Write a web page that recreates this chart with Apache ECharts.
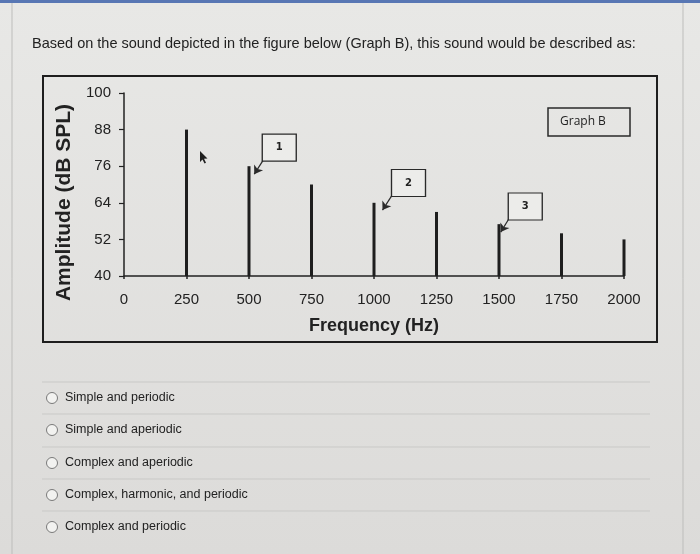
<!DOCTYPE html>
<html>
<head>
<meta charset="utf-8">
<script src="https://cdn.jsdelivr.net/npm/echarts@6/dist/echarts.min.js"></script>
<style>
html,body{margin:0;padding:0;background:#e4e4e2;}
#graphB{width:700px;height:554px;}
</style>
</head>
<body>
<div id="graphB"></div>
<script>
// data
var freqs = [250, 500, 750, 1000, 1250, 1500, 1750, 2000];
var amps = [88, 76, 70, 64, 61, 57, 54, 52];
var yTicks = [40, 52, 64, 76, 88, 100];
var xTicks = [0, 250, 500, 750, 1000, 1250, 1500, 1750, 2000];
var boxLabels = ['1', '2', '3'];
var boxPos = [[621, 82.1], [1138, 70.5], [1605, 62.8]];
var arrowFrom = [[557, 78], [1070, 66.2], [1539, 58.7]];
var arrowTo = [[521, 73.4], [1034, 61.6], [1507, 54.4]];
var choices = ['Simple and periodic', 'Simple and aperiodic', 'Complex and aperiodic',
  'Complex, harmonic, and periodic', 'Complex and periodic'];

var chart = echarts.init(document.getElementById('graphB'));

var points = [];
for (var i = 0; i < freqs.length; i++) {
  points.push([freqs[i], amps[i]]);
}

var marks = [];
var arrows = [];
for (var k = 0; k < boxLabels.length; k++) {
  marks.push({ coord: boxPos[k], value: boxLabels[k] });
  arrows.push([{ coord: arrowFrom[k] }, { coord: arrowTo[k] }]);
}

// page bits round the chart: rules, radio buttons, answer texts
var extras = [
  { type: 'rect', shape: { x: 0, y: 0, width: 700, height: 3 }, style: { fill: '#5877b4' }, silent: true },
  { type: 'line', shape: { x1: 12, y1: 3, x2: 12, y2: 554 }, style: { stroke: '#bdbdbb', lineWidth: 1 }, silent: true },
  { type: 'line', shape: { x1: 683, y1: 3, x2: 683, y2: 554 }, style: { stroke: '#bdbdbb', lineWidth: 1 }, silent: true },
  { type: 'rect', z: -1, shape: { x: 43, y: 76, width: 614, height: 266 }, style: { fill: 'none', stroke: '#1e1e1e', lineWidth: 2 }, silent: true },
  { type: 'polygon', shape: { points: [[200, 151], [200, 162], [202.5, 159.5], [204.5, 163.5], [206, 162.8], [204, 158.8], [207.5, 158.5]] }, style: { fill: '#1e1e1e' }, silent: true }
];
var rulesY = [382, 414, 447, 479, 511];
for (var j = 0; j < choices.length; j++) {
  var cy = rulesY[j] + 16;
  extras.push({ type: 'line', shape: { x1: 42, y1: rulesY[j], x2: 650, y2: rulesY[j] }, style: { stroke: '#c9c9c7', lineWidth: 1 }, silent: true });
  extras.push({ type: 'circle', shape: { cx: 52, cy: cy, r: 5.5 }, style: { fill: '#f2f2f0', stroke: '#7a7a7a', lineWidth: 1 }, silent: true });
  extras.push({ type: 'text', x: 65, y: cy, style: { text: choices[j], fontSize: 12.5, fontFamily: 'Liberation Sans', fill: '#222', verticalAlign: 'middle' }, silent: true });
}

var option = {
  backgroundColor: new echarts.graphic.LinearGradient(0, 0, 0, 1, [
    { offset: 0, color: '#e8e8e6' },
    { offset: 1, color: '#dcdbd9' }
  ]),
  animation: false,
  textStyle: { fontFamily: 'Liberation Sans' },
  title: [
    {
      text: 'Based on the sound depicted in the figure below (Graph B), this sound would be described as:',
      left: 32, top: 36, padding: 0,
      textStyle: { fontSize: 14.5, fontWeight: 'normal', color: '#222', fontFamily: 'Liberation Sans' }
    },
    {
      text: 'Graph B',
      left: 548, top: 108,
      padding: [8, 24, 8, 12],
      borderColor: '#2a2a2a', borderWidth: 1.5,
      textStyle: { fontSize: 12, fontWeight: 'normal', color: '#222', fontFamily: 'Open Sans' }
    }
  ],
  grid: { left: 124, right: 76, top: 93, bottom: 278 },
  xAxis: {
    type: 'value',
    min: 0, max: 2000, interval: 250,
    name: 'Frequency (Hz)',
    nameLocation: 'middle',
    nameGap: 41,
    nameTextStyle: { fontSize: 18, fontWeight: 'bold', color: '#222' },
    axisLine: { show: true, lineStyle: { color: '#222', width: 1.5 } },
    axisTick: { show: true, length: 3, lineStyle: { color: '#222', width: 1.5 } },
    axisLabel: {
      fontSize: 15, color: '#222', margin: 16, customValues: xTicks,
      formatter: function (v) { return String(v); }
    },
    splitLine: { show: false }
  },
  yAxis: {
    type: 'value',
    min: 40, max: 100,
    name: 'Amplitude (dB SPL)',
    nameLocation: 'middle',
    nameGap: 43,
    nameTextStyle: { fontSize: 21, fontWeight: 'bold', color: '#222', padding: [0, 36, 0, 0] },
    axisLine: { show: true, lineStyle: { color: '#222', width: 1.5 } },
    axisTick: { show: true, length: 5, customValues: yTicks, lineStyle: { color: '#222', width: 1.2 } },
    axisLabel: { fontSize: 15, color: '#222', margin: 13, customValues: yTicks },
    splitLine: { show: false }
  },
  series: [
    {
      type: 'bar',
      data: points,
      barWidth: 3,
      itemStyle: { color: '#1e1e1e' },
      markPoint: {
        silent: true,
        symbol: 'rect',
        symbolSize: [34, 27],
        itemStyle: { color: '#ececea', borderColor: '#2a2a2a', borderWidth: 1.2 },
        label: { show: true, position: 'inside', formatter: '{c}', fontSize: 10, fontWeight: 'bold', color: '#222', fontFamily: 'DejaVu Sans' },
        data: marks
      },
      markLine: {
        silent: true,
        symbol: ['none', 'arrow'],
        symbolSize: 8,
        label: { show: false },
        lineStyle: { color: '#2a2a2a', width: 1.2, type: 'solid' },
        data: arrows
      }
    }
  ],
  graphic: extras
};

chart.setOption(option);
</script>
</body>
</html>
